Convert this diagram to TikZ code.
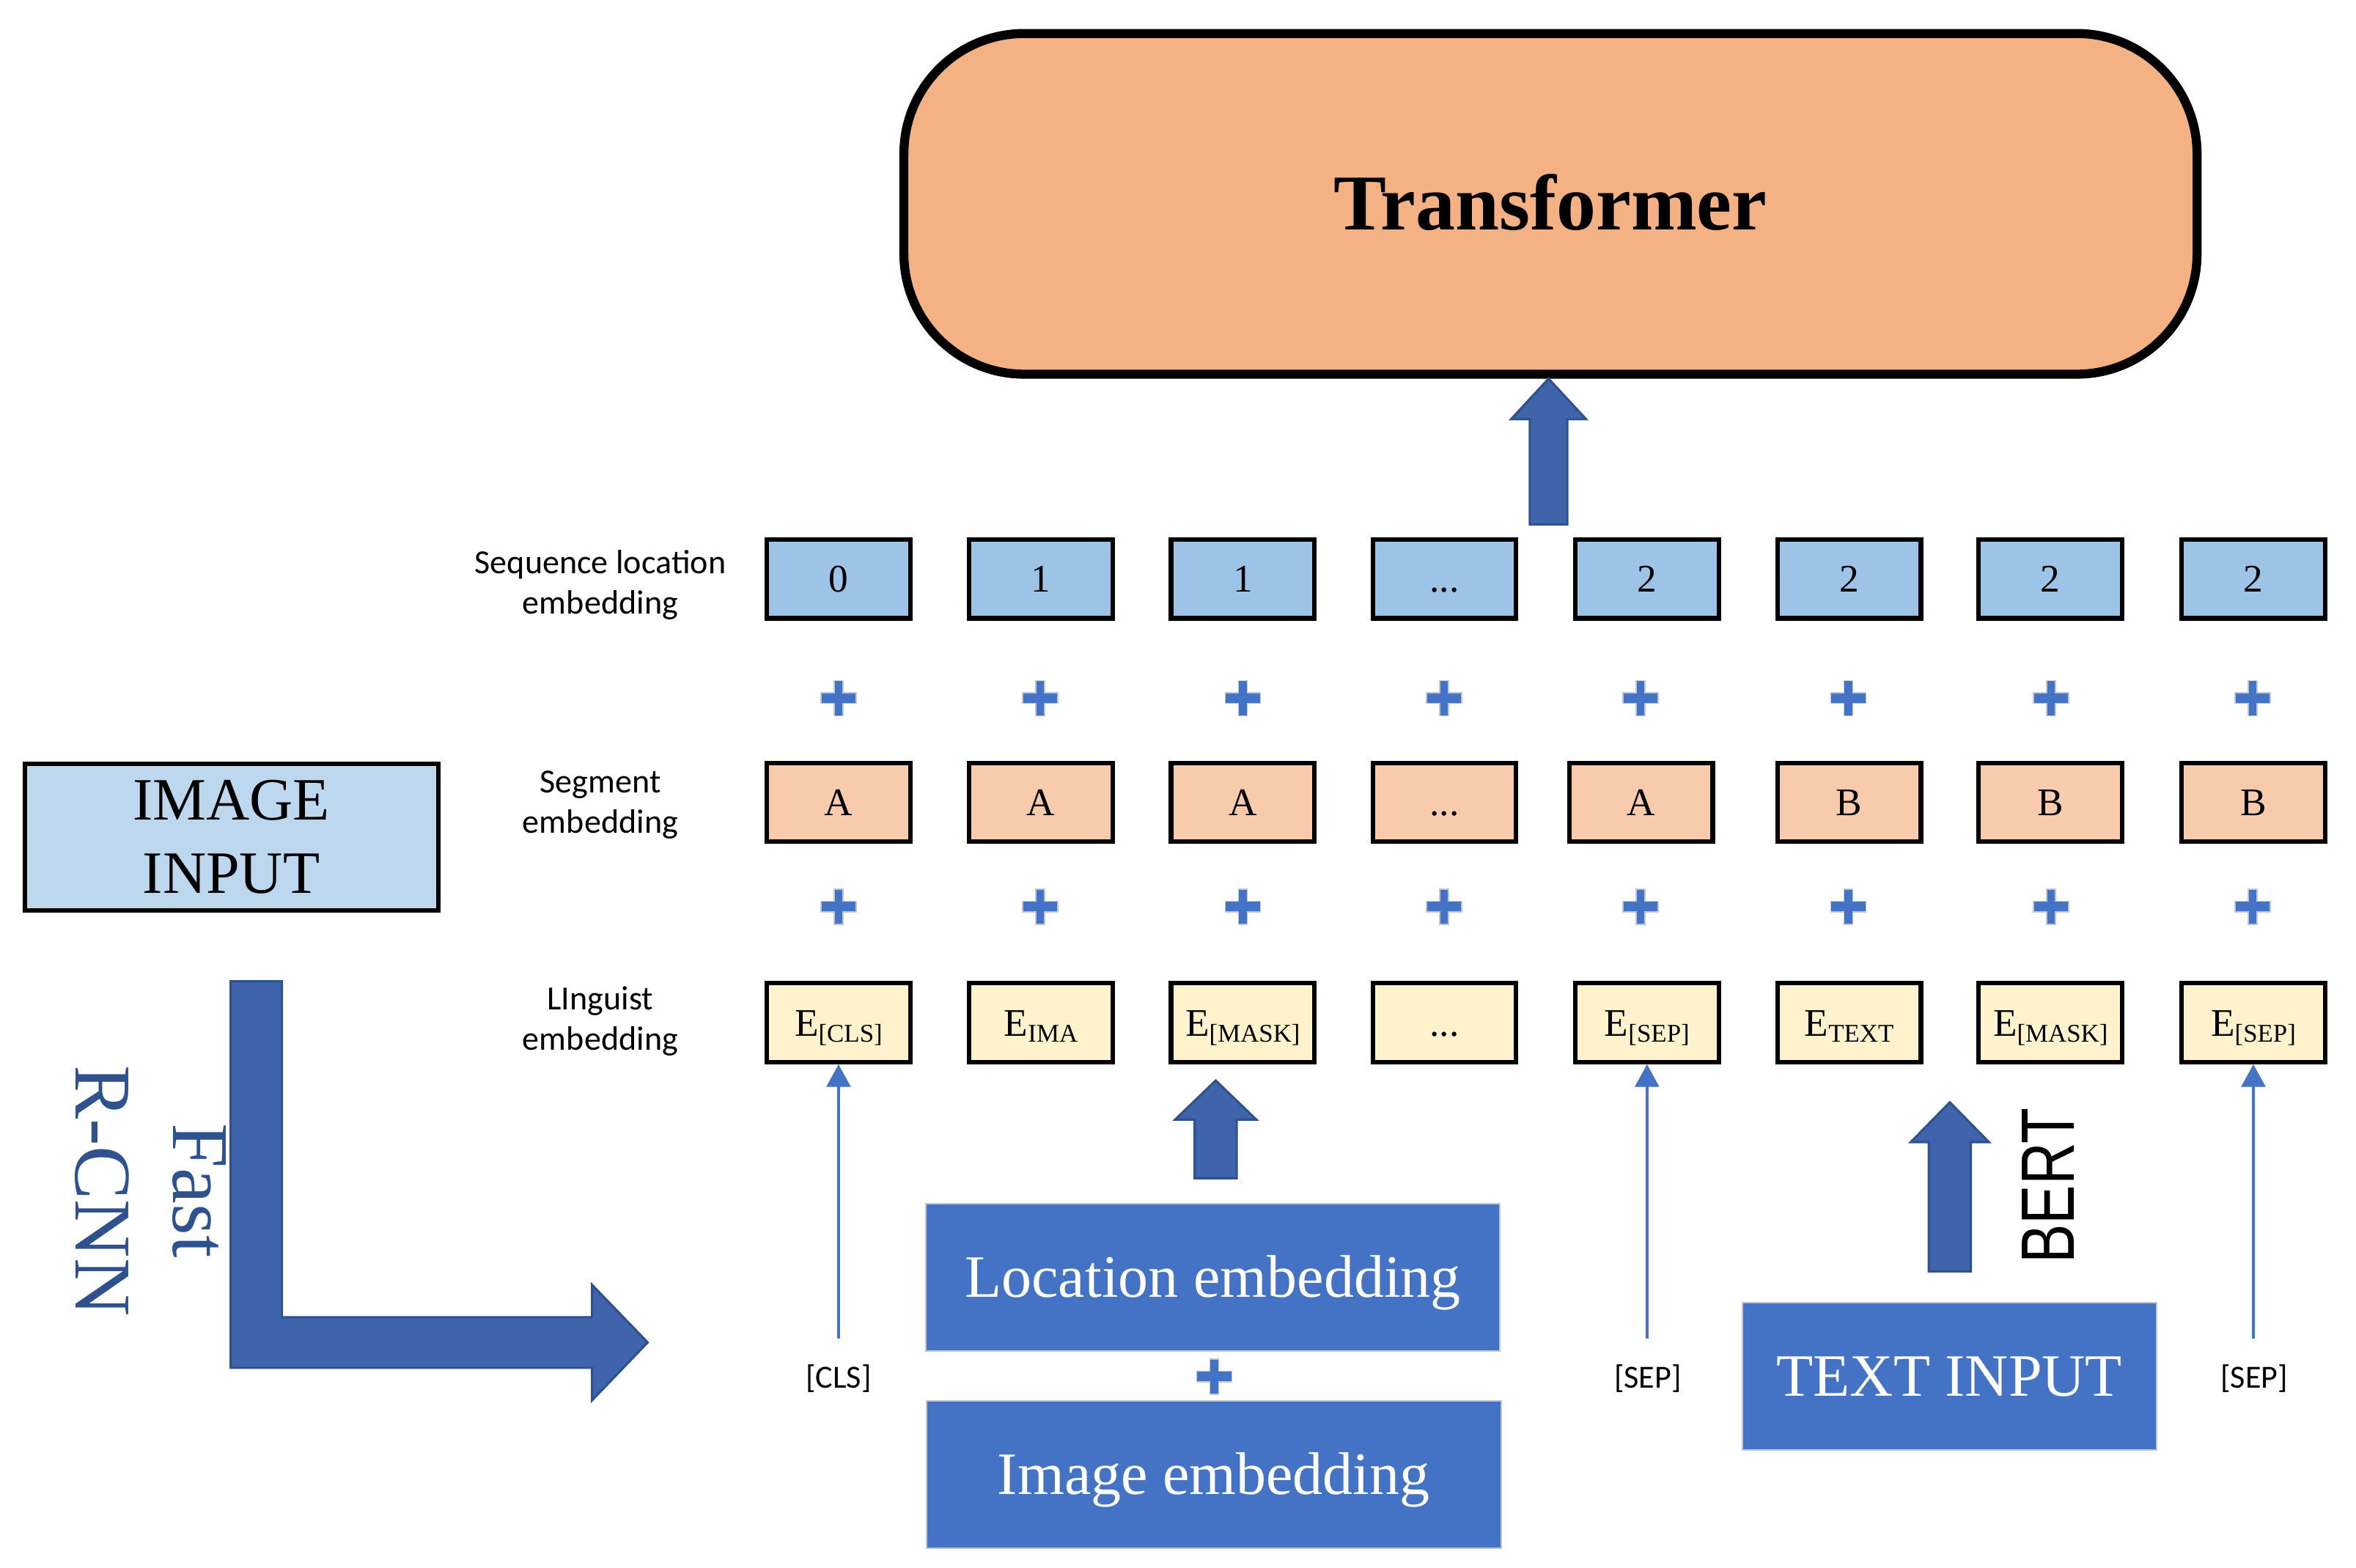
\documentclass[tikz,border=0pt]{standalone}
\usepackage{fontspec}
\setmainfont{Liberation Serif}
\newfontfamily\calibrifont{Carlito}
\newfontfamily\arialfont{Liberation Sans}
\usetikzlibrary{arrows.meta}
\definecolor{seqfill}{HTML}{9DC3E6}
\definecolor{segfill}{HTML}{F8CBAD}
\definecolor{lingfill}{HTML}{FFF2CC}
\definecolor{transfill}{HTML}{F4B183}
\definecolor{imgfill}{HTML}{BDD7EE}
\definecolor{accblue}{HTML}{4472C4}
\definecolor{boxedge}{HTML}{BFC7D5}
\definecolor{arrowfill}{RGB}{63,100,171}
\definecolor{arrowedge}{HTML}{2F528F}
\definecolor{fasttext}{RGB}{47,82,143}
\newcommand\Esub[1]{E{\fontsize{17}{17}\selectfont\raisebox{-4pt}{#1}}}
\newcommand\blockup[6]{%
  \filldraw[blockarrow] (#1,#2) -- (#1+#4,#3) -- (#1+#5,#3) -- (#1+#5,#6) -- (#1-#5,#6) -- (#1-#5,#3) -- (#1-#4,#3) -- cycle;}
\begin{document}
\begin{tikzpicture}[x=1pt,y=-1pt,
  rowbox/.style={draw=black, line width=3pt, minimum width=95.5pt, minimum height=52.5pt,
     inner sep=0pt, font=\fontsize{26}{26}\selectfont, text height=17.6pt, text depth=0pt},
  seq/.style={rowbox, fill=seqfill},
  seg/.style={rowbox, fill=segfill},
  ling/.style={rowbox, fill=lingfill},
  lab/.style={align=center, font=\calibrifont\fontsize{22.5}{27}\selectfont, inner sep=0pt},
  tok/.style={font=\calibrifont\fontsize{21.5}{21.5}\selectfont, inner sep=0pt},
  bluebox/.style={fill=accblue, draw=boxedge, line width=1pt, text=white,
     font=\fontsize{40}{40}\selectfont, inner sep=0pt, text height=26.5pt, text depth=0pt},
  blockarrow/.style={fill=arrowfill, draw=arrowedge, line width=1.5pt, line join=miter},
  thinarr/.style={draw=accblue, line width=1.8pt, -{Triangle[width=16pt,length=15pt]}},
  plussign/.pic={\filldraw[fill=accblue, draw=boxedge, line width=0.8pt]
     (-11.7,-3.5) -- (-2.9,-3.5) -- (-2.9,-11.7) -- (2.9,-11.7) -- (2.9,-3.5) -- (11.7,-3.5)
     -- (11.7,3.5) -- (2.9,3.5) -- (2.9,11.7) -- (-2.9,11.7) -- (-2.9,3.5) -- (-11.7,3.5) -- cycle;}
]
\useasboundingbox (0,0) rectangle (1567.8,1043.4);

% Transformer
\node[draw=black, line width=6pt, fill=transfill, rounded corners=80pt,
      minimum width=860.5pt, minimum height=226.7pt, inner sep=0pt,
      font=\fontsize{52.6}{52.6}\selectfont\bfseries, text height=35pt, text depth=0pt]
      (tr) at (1031.75,135.65) {Transformer};
\blockup{1030.5}{252}{279}{25}{12.5}{349}

% row labels
\node[lab] (labseq) at (399.5,389.3) {Sequence location\\embedding};
\node[lab] (labseg) at (399.5,535.7) {Segment\\embedding};
\node[lab] (labling) at (399.5,679.5) {LInguist\\embedding};

% sequence location row
\node[seq] (s1) at (558,385.2) {0};
\node[seq] (s2) at (692.7,385.2) {1};
\node[seq] (s3) at (827,385.2) {1};
\node[seq] (s4) at (961.2,385.2) {...};
\node[seq] (s5) at (1096,385.2) {2};
\node[seq] (s6) at (1230.5,385.2) {2};
\node[seq] (s7) at (1364.5,385.2) {2};
\node[seq] (s8) at (1499.5,385.2) {2};

% segment row
\node[seg] (g1) at (558,533.9) {A};
\node[seg] (g2) at (692.7,533.9) {A};
\node[seg] (g3) at (827,533.9) {A};
\node[seg] (g4) at (961.2,533.9) {...};
\node[seg] (g5) at (1092,533.9) {A};
\node[seg] (g6) at (1230.5,533.9) {B};
\node[seg] (g7) at (1364.5,533.9) {B};
\node[seg] (g8) at (1499.5,533.9) {B};

% linguist row
\node[ling] (l1) at (558,680.5) {\Esub{[CLS]}};
\node[ling] (l2) at (692.7,680.5) {\Esub{IMA}};
\node[ling] (l3) at (827,680.5) {\Esub{[MASK]}};
\node[ling] (l4) at (961.2,680.5) {...};
\node[ling] (l5) at (1096,680.5) {\Esub{[SEP]}};
\node[ling] (l6) at (1230.5,680.5) {\Esub{TEXT}};
\node[ling] (l7) at (1364.5,680.5) {\Esub{[MASK]}};
\node[ling] (l8) at (1499.5,680.5) {\Esub{[SEP]}};

% plus signs
\foreach \px in {558,692.3,827,961,1091.7,1230,1364.8,1499}{
  \pic at (\px,464.6) {plussign};
  \pic at (\px,603.3) {plussign};
}
\pic at (808,916) {plussign};

% image input
\node[draw=black, line width=3pt, fill=imgfill, minimum width=275.1pt, minimum height=97.6pt,
      align=center, font=\fontsize{40}{49}\selectfont, inner sep=0pt]
      (img) at (153.95,556.9) {IMAGE\\INPUT};

% Fast R-CNN L-arrow
\filldraw[blockarrow] (153.5,653) -- (187.6,653) -- (187.6,876.5) -- (394,876.5) -- (394,855)
   -- (431,893.3) -- (394,931.8) -- (394,910.2) -- (153.5,910.2) -- cycle;
\node[rotate=-90, align=center, text=fasttext, font=\fontsize{53.6}{64.8}\selectfont, inner sep=0pt]
      (frcnn) at (100.2,792.4) {Fast\\R-CNN};

% image side boxes
\node[bluebox, minimum width=382.2pt, minimum height=98pt] (loc) at (807.1,850) {Location embedding};
\node[bluebox, minimum width=382.4pt, minimum height=97.7pt] (imemb) at (807.7,981.2) {Image embedding};
\blockup{809}{719}{745}{27}{14}{784}

% text side
\node[bluebox, minimum width=275.5pt, minimum height=98pt] (txt) at (1297.2,916) {TEXT INPUT};
\blockup{1297.5}{733.5}{760}{26}{14}{846}
\node[rotate=90, font=\arialfont\fontsize{50.3}{50.3}\selectfont, inner sep=0pt]
      (bert) at (1363,789) {\scalebox{0.776}[1]{BERT}};

% special tokens
\node[tok] (tcls) at (558,917.5) {[CLS]};
\node[tok] (tsep1) at (1096.5,917.5) {[SEP]};
\node[tok] (tsep2) at (1500,917.5) {[SEP]};
\coordinate (acls) at (558,890.5);
\coordinate (asep1) at (1096,890.5);
\coordinate (asep2) at (1499.5,890.5);
\draw[thinarr] (acls) -- (l1.south);
\draw[thinarr] (asep1) -- (l5.south);
\draw[thinarr] (asep2) -- (l8.south);
\end{tikzpicture}
\end{document}
